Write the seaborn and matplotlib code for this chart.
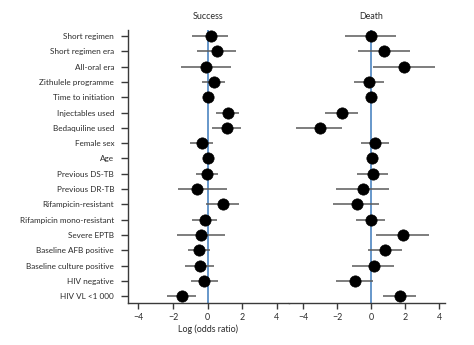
import numpy as np
import pandas as pd
import matplotlib
matplotlib.use("Agg")
import matplotlib.pyplot as plt
import seaborn as sns

# Predictors, top to bottom
variables = [
    "Short regimen", "Short regimen era", "All-oral era", "Zithulele programme",
    "Time to initiation", "Injectables used", "Bedaquiline used", "Female sex",
    "Age", "Previous DS-TB", "Previous DR-TB", "Rifampicin-resistant",
    "Rifampicin mono-resistant", "Severe EPTB", "Baseline AFB positive",
    "Baseline culture positive", "HIV negative", "HIV VL <1 000",
]

# Log odds ratios with 95% CI bounds: treatment success
success_est = [0.20, 0.55, -0.10, 0.35, 0.00, 1.17, 1.12, -0.33, 0.00, -0.05,
               -0.61, 0.87, -0.15, -0.36, -0.48, -0.44, -0.21, -1.49]
success_lo = [-0.90, -0.60, -1.55, -0.35, -0.08, 0.50, 0.27, -1.00, -0.05, -0.70,
              -1.71, -0.12, -0.90, -1.77, -1.14, -1.30, -0.95, -2.34]
success_hi = [1.20, 1.65, 1.35, 1.00, 0.08, 1.80, 1.95, 0.30, 0.05, 0.60,
              1.10, 1.83, 0.53, 1.00, 0.15, 0.34, 0.57, -0.67]

# Log odds ratios with 95% CI bounds: death
death_est = [0.00, 0.79, 1.92, -0.10, 0.00, -1.68, -3.00, 0.24, 0.04, 0.10,
             -0.46, -0.85, 0.02, 1.86, 0.85, 0.16, -0.95, 1.70]
death_lo = [-1.52, -0.79, 0.10, -0.99, -0.06, -2.69, -4.38, -0.57, -0.02, -0.85,
            -2.06, -2.22, -0.87, 0.28, -0.16, -1.09, -2.06, 0.71]
death_hi = [1.45, 2.32, 3.76, 0.75, 0.06, -0.75, -1.70, 1.03, 0.10, 1.00,
            1.07, 0.46, 0.85, 3.40, 1.80, 1.33, 0.12, 2.63]

outcomes = ["Success", "Death"]
x_ticks = [-4, -2, 0, 2, 4]

sns.set_theme(style="ticks")
plt.rcParams["font.family"] = ["Lato", "DejaVu Sans"]
plt.rcParams["axes.unicode_minus"] = False

pos = np.arange(len(variables))
frames = []
for name, est, lo, hi in [("Success", success_est, success_lo, success_hi),
                          ("Death", death_est, death_lo, death_hi)]:
    frames.append(pd.DataFrame({"variable": variables, "pos": pos, "est": est,
                                "lo": lo, "hi": hi, "outcome": name}))
df = pd.concat(frames, ignore_index=True)

W, H = 474, 345
fig = plt.figure(figsize=(W / 100, H / 100), dpi=100)
ax_top, ax_bot = 30, 303
axL = fig.add_axes([128 / W, (H - ax_bot) / H, 161 / W, (ax_bot - ax_top) / H])
axR = fig.add_axes([289 / W, (H - ax_bot) / H, 156 / W, (ax_bot - ax_top) / H])

spine_col = "#3a3a3a"
text_col = "#2b2b2b"
fs_lab = 5.9
fs = 6.4
for ax, outcome, xlim in [(axL, "Success", (-4.6, 4.7)), (axR, "Death", (-4.82, 4.35))]:
    sub = df[df["outcome"] == outcome]
    ax.axvline(0, color="#5b8fc6", lw=1.3, zorder=1)
    ax.hlines(sub["pos"], sub["lo"], sub["hi"], color="#5a5a5a", lw=1.1, zorder=2)
    sns.scatterplot(data=sub, x="est", y="pos", ax=ax, color="black",
                    edgecolor="black", s=66, linewidth=0.5, zorder=3, legend=False)
    ax.set_xlim(*xlim)
    ax.set_ylim(len(variables) - 0.55, -0.4)
    ax.set_xticks(x_ticks)
    ax.set_xticklabels([str(t).replace("-", "\u2212") for t in x_ticks])
    ax.set_xlabel("")
    ax.set_ylabel("")
    for s in ["top", "right"]:
        ax.spines[s].set_visible(False)
    ax.spines["bottom"].set_color(spine_col)
    ax.spines["bottom"].set_linewidth(1.0)
    ax.tick_params(axis="x", direction="out", length=4, width=1.0, color=spine_col,
                   labelsize=fs, labelcolor=text_col, pad=3)
    ax.annotate(outcome, xy=(0, 1.048), xycoords=("data", "axes fraction"),
                ha="center", va="center", fontsize=fs, color=text_col)

axL.set_yticks(pos)
axL.set_yticklabels(variables)
axL.spines["left"].set_color(spine_col)
axL.spines["left"].set_linewidth(1.0)
axL.tick_params(axis="y", direction="out", length=5, width=1.0, color=spine_col,
                labelsize=fs_lab, labelcolor=text_col, pad=5)

axR.spines["left"].set_visible(False)
axR.set_yticks([])

axL.annotate("Log (odds ratio)", xy=(0, -0.095), xycoords=("data", "axes fraction"),
             ha="center", va="center", fontsize=fs, color=text_col)

fig.savefig("out.png", dpi=100)
